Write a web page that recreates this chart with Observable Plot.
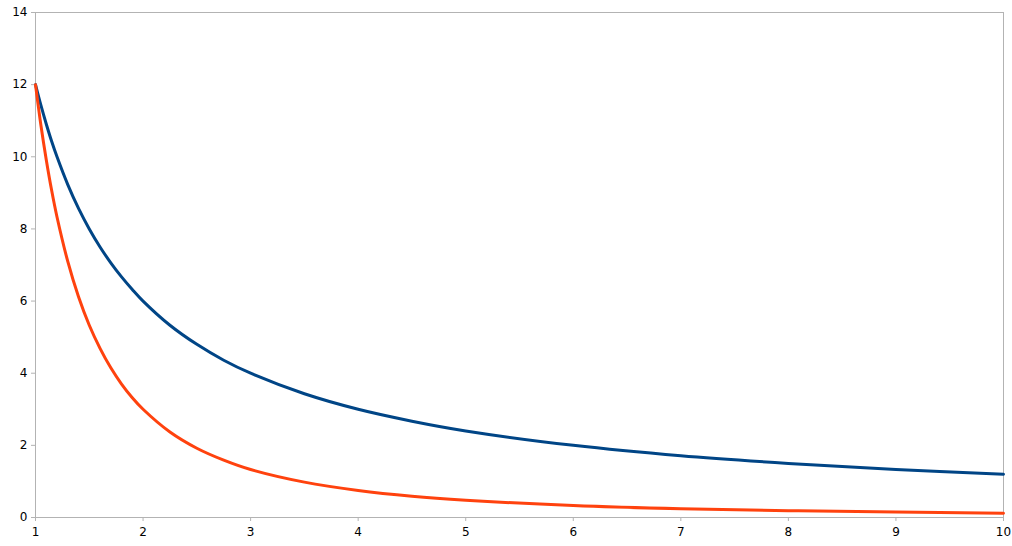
<!DOCTYPE html>
<html><head><meta charset="utf-8">
<script src="https://cdn.jsdelivr.net/npm/d3@7"></script>
<script src="https://cdn.jsdelivr.net/npm/@observablehq/plot@0.6"></script>
<style>body{margin:0;background:#fff;} svg{display:block;}</style>
</head><body><div id="chart"></div>
<script>
const xValues = [1, 1.05, 1.1, 1.15, 1.2, 1.3, 1.4, 1.5, 1.6, 1.7, 1.8, 1.9, 2, 2.25, 2.5, 2.75, 3, 3.5, 4, 4.5, 5, 6, 7, 8, 9, 10];
const blueValues = [12, 11.43, 10.91, 10.43, 10, 9.23, 8.57, 8, 7.5, 7.06, 6.67, 6.32, 6, 5.33, 4.8, 4.36, 4, 3.43, 3, 2.67, 2.4, 2, 1.71, 1.5, 1.33, 1.2];
const redValues = [12, 10.88, 9.92, 9.07, 8.33, 7.1, 6.12, 5.33, 4.69, 4.15, 3.7, 3.32, 3, 2.37, 1.92, 1.59, 1.33, 0.98, 0.75, 0.59, 0.48, 0.33, 0.24, 0.19, 0.15, 0.12];
const xTicks = [1,2,3,4,5,6,7,8,9,10];
const yTicks = [0,2,4,6,8,10,12,14];

const blue = xValues.map((x,i)=>({x, y: blueValues[i]}));
const red = xValues.map((x,i)=>({x, y: redValues[i]}));

const chart = Plot.plot({
  width: 1012, height: 546,
  marginLeft: 35, marginTop: 12, marginRight: 9, marginBottom: 29,
  style: {fontFamily: "DejaVu Sans", fontSize: "12px", color: "#000"},
  x: {domain: [1,10], ticks: xTicks, tickSize: 4, tickPadding: 5, label: null},
  y: {domain: [0,14], ticks: yTicks, tickSize: 4, tickPadding: 4, label: null},
  marks: [
    Plot.frame({stroke: "#b3b3b3"}),
    Plot.axisX({ticks: xTicks, tickSize: 4, tickPadding: 6, stroke: "#b3b3b3", label: null, fill: "#000"}),
    Plot.axisY({ticks: yTicks, tickSize: 4, tickPadding: 4, stroke: "#b3b3b3", label: null, fill: "#000"}),
    Plot.line(blue, {x: "x", y: "y", stroke: "#004586", strokeWidth: 3, curve: "catmull-rom"}),
    Plot.line(red, {x: "x", y: "y", stroke: "#ff420e", strokeWidth: 3, curve: "catmull-rom"})
  ]
});
document.getElementById("chart").appendChild(chart);
</script></body></html>
